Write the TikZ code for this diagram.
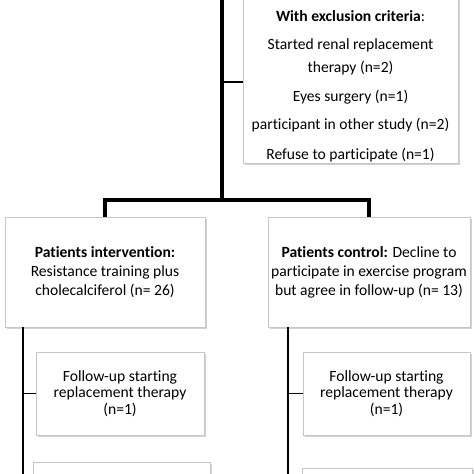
\documentclass[tikz,border=0pt]{standalone}
\usepackage{fontspec}
\setmainfont{Carlito}[Ligatures=NoCommon]
\usetikzlibrary{shadows}

\begin{document}
\begin{tikzpicture}[x=1pt,y=-1pt,
    box/.style={draw=gray!45,line width=.8pt,fill=white,align=center,inner sep=2pt,
      drop shadow={shadow xshift=1.5pt,shadow yshift=-1.5pt,fill=gray!70,opacity=.5},
      font=\fontsize{15.6}{19}\selectfont},
    trunk/.style={line width=3.6pt},
    twig/.style={line width=1.3pt}]
  \clip (0,0) rectangle (474,474);
  % exclusion box, its top runs off the page
  \node[box,minimum width=215pt,minimum height=190pt] (excl) at (350.5,68) {};
  \foreach \t/\y [count=\i] in {{\textbf{With exclusion criteria}:}/16,
      Started renal replacement/45, therapy (n=2)/68, Eyes surgery (n=1)/97,
      participant in other study (n=2)/125, Refuse to participate (n=1)/155}
    \node[font=\fontsize{15.6}{18}\selectfont] (exc\i) at (350.5,\y) {\t};
  \coordinate (top) at (222,0);
  \coordinate (split) at (222,200);
  \coordinate (tap) at (222,82);
  \draw[trunk] (top) -- (split);
  \draw[twig] (tap) -- (tap -| excl.west);
  % the two arms
  \node[box,minimum width=200pt,minimum height=110pt] (interv) at (105,272)
    {\textbf{Patients intervention:}\\Resistance training plus\\cholecalciferol (n= 26)};
  \node[box,minimum width=202pt,minimum height=110pt] (ctrl) at (369,272)
    {\textbf{Patients control:} Decline to\\participate in exercise program\\but agree in follow-up (n= 13)};
  \draw[trunk] (interv.north) -- (interv.north |- split) -- (ctrl.north |- split) -- (ctrl.north);
  % follow-up
  \coordinate (lend) at (23,480);
  \coordinate (rend) at (288,480);
  \draw[twig] (interv.south -| lend) -- (lend);
  \draw[twig] (ctrl.south -| rend) -- (rend);
  \node[box,minimum width=168pt,minimum height=83pt,font=\fontsize{15.6}{16.7}\selectfont]
    (lfollow) at (120,393.5) {Follow-up starting\\replacement therapy\\(n=1)};
  \node[box,minimum width=167pt,minimum height=83pt,font=\fontsize{15.6}{16.7}\selectfont]
    (rfollow) at (386.5,393.5) {Follow-up starting\\replacement therapy\\(n=1)};
  \draw[twig] (lfollow.west -| lend) -- (lfollow.west);
  \draw[twig] (rfollow.west -| rend) -- (rfollow.west);
  % next boxes, cut off at the bottom
  \node[box,minimum width=177pt,minimum height=60pt] (lnext) at (121.5,492) {};
  \node[box,minimum width=170pt,minimum height=60pt] (rnext) at (387.5,498) {};
\end{tikzpicture}
\end{document}
